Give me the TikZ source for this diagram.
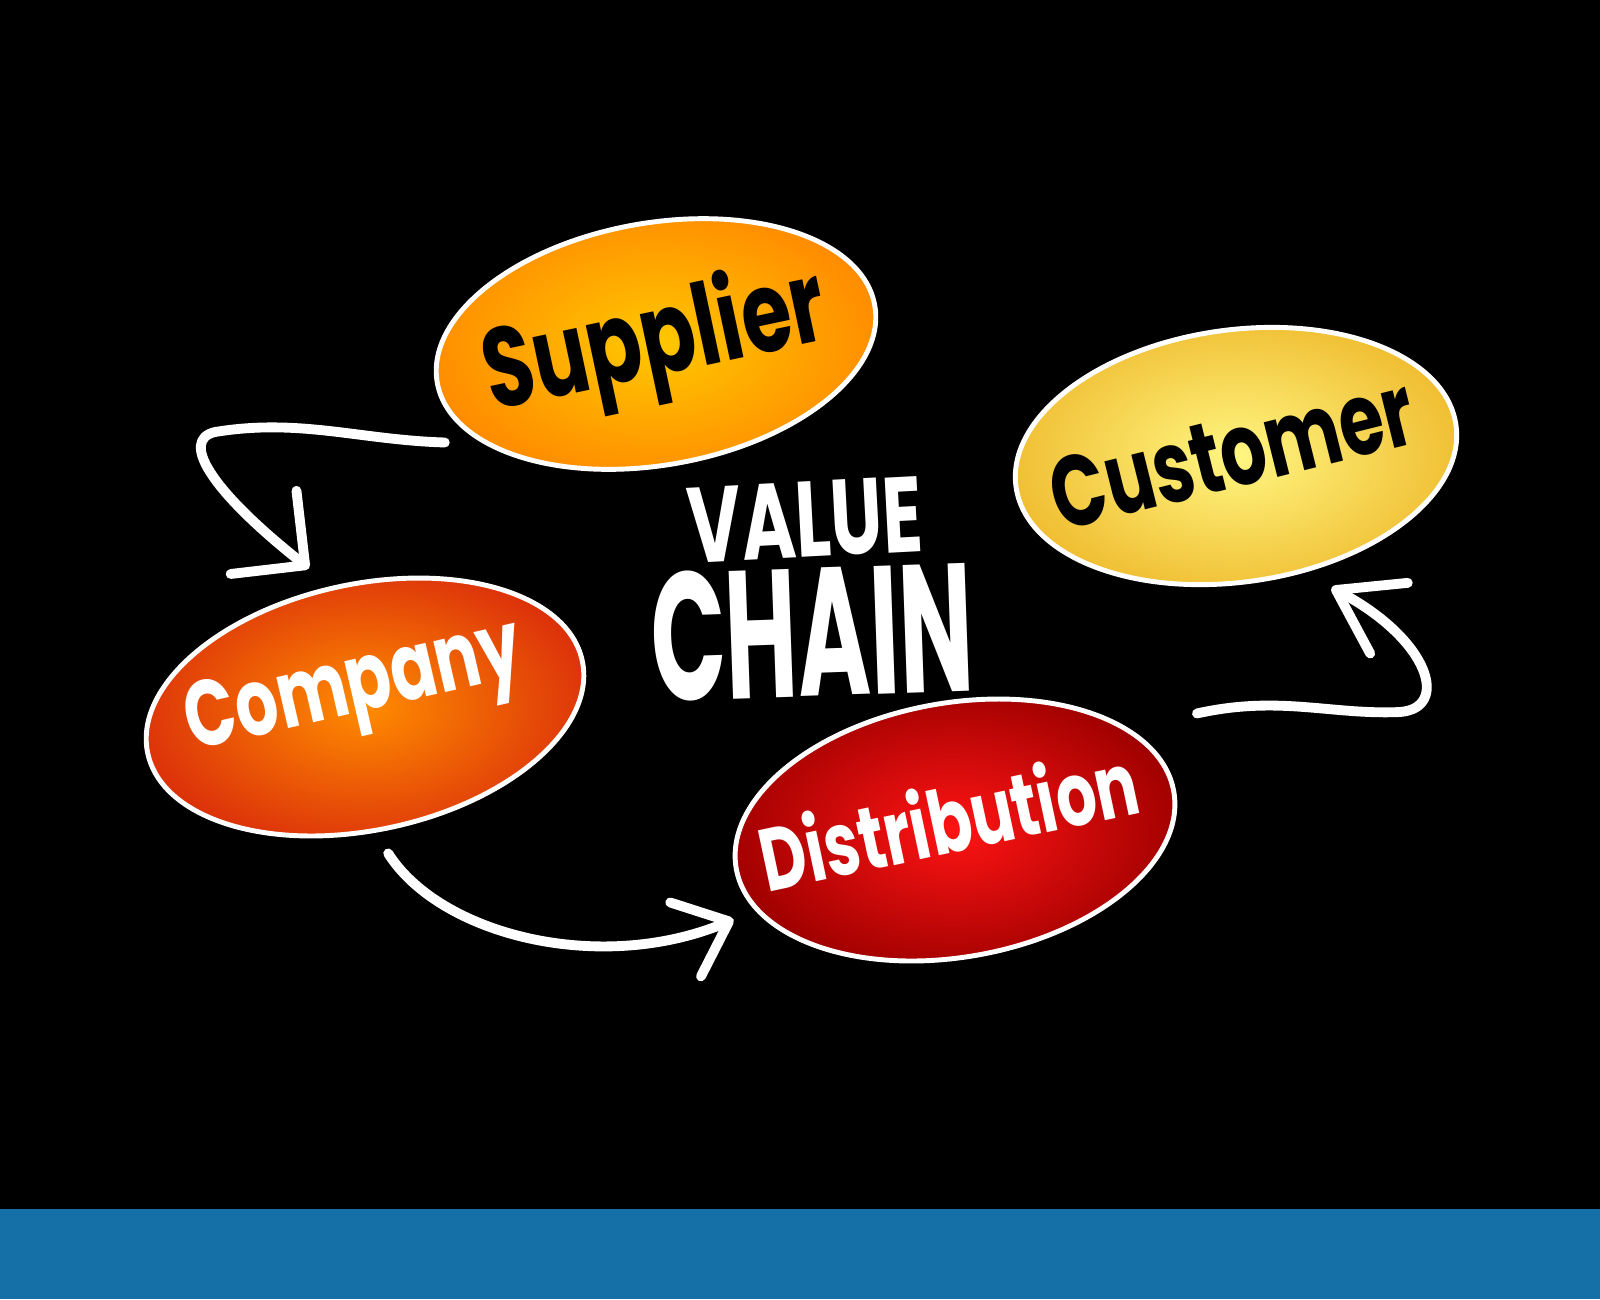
\documentclass[tikz,border=0pt]{standalone}
\usepackage{fontspec}
\setmainfont{Poppins}
\usetikzlibrary{shapes,arrows.meta,positioning,calc}
\definecolor{supplierin}{RGB}{255,200,0}
\definecolor{supplierout}{RGB}{255,140,0}
\definecolor{customerin}{RGB}{255,246,130}
\definecolor{customerout}{RGB}{240,190,50}
\definecolor{companyin}{RGB}{255,140,0}
\definecolor{companyout}{RGB}{220,50,10}
\definecolor{distribin}{RGB}{255,20,20}
\definecolor{distribout}{RGB}{160,0,0}
\definecolor{barblue}{RGB}{21,112,168}
\newcommand{\tall}[2][1.4]{\scalebox{1}[#1]{#2}}

\begin{document}
\begin{tikzpicture}[x=0.01cm, y=-0.01cm,
    oval/.style={ellipse, draw=white, line width=1.4pt, minimum width=4.44cm,
        minimum height=2.42cm, inner sep=0pt, outer sep=0.25cm, shading=radial},
    word/.style={inner sep=0pt},
    flow/.style={draw=white, line width=2.8pt, line cap=round, line join=round}
]
    % Background
    \useasboundingbox (0,0) rectangle (1600,1299);
    \fill[black] (0,0) rectangle (1600,1209);
    \fill[barblue] (0,1209) rectangle (1600,1299);

    % Ovals
    \node[oval, rotate=10, inner color=supplierin, outer color=supplierout] (sup) at (656,344) {};
    \node[oval, rotate=8, minimum height=2.52cm, inner color=customerin, outer color=customerout] (cus) at (1236,456) {};
    \node[oval, rotate=12, minimum height=2.46cm, inner color=companyin, outer color=companyout] (com) at (365,707) {};
    \node[oval, rotate=10, minimum height=2.54cm, inner color=distribin, outer color=distribout] (dis) at (955,830) {};

    % Labels
    \node[word, rotate=12, text=black, font=\bfseries\fontsize{23}{28}\selectfont] (supt) at (656,345) {\tall{Supplier}};
    \node[word, rotate=14, text=black, font=\bfseries\fontsize{20.5}{25}\selectfont] (cust) at (1232,452) {\tall{Customer}};
    \node[word, rotate=13, text=white, font=\bfseries\fontsize{19}{23}\selectfont] (comt) at (355,692) {\tall{Company}};
    \node[word, rotate=12, text=white, font=\bfseries\fontsize{18}{22}\selectfont] (dist) at (948,818) {\tall{Distribution}};

    % Title
    \node[word, rotate=3, text=white, font=\bfseries\fontsize{21}{25}\selectfont] (value) at (805,520) {\tall[1.45]{VALUE}};
    \node[word, rotate=2, text=white, font=\bfseries\fontsize{28}{34}\selectfont] (chain) at (812,632) {\tall[1.85]{CHAIN}};

    % Arrows
    \draw[flow, -{Straight Barb[length=0.53cm, width=1.06cm, round]}]
        (sup.195) .. controls (360,440) and (300,418) .. (215,432)
        .. controls (180,440) and (210,490) .. (com.100);
    \draw[flow, -{Straight Barb[length=0.47cm, width=0.8cm, round]}]
        (com.267) .. controls (440,935) and (600,975) .. (dis.192);
    \draw[flow, shorten <=0.4cm, -{Straight Barb[length=0.6cm, width=0.8cm, round]}]
        (dis.18) .. controls (1280,695) and (1330,715) .. (1400,712)
        .. controls (1450,708) and (1430,640) .. (cus.298);
\end{tikzpicture}
\end{document}
